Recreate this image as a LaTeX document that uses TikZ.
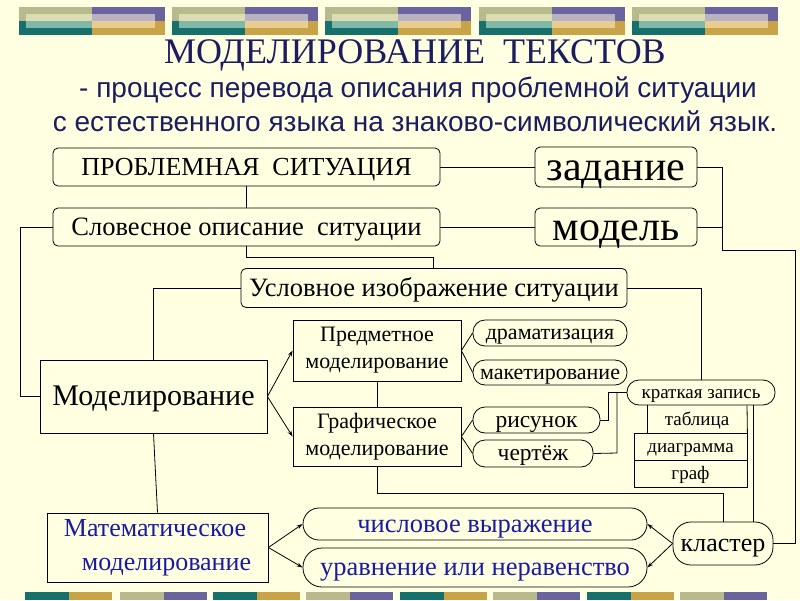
\documentclass[tikz,border=0pt]{standalone}
\usepackage{fontspec}
\setmainfont{Liberation Serif}
\newfontfamily\arialf{Liberation Sans}
\usetikzlibrary{arrows.meta}
\definecolor{bg}{HTML}{FFFFE1}
\definecolor{ttl}{HTML}{1C1C60}
\definecolor{mblue}{HTML}{1A1AA0}
\definecolor{bOl}{HTML}{B9B98E}
\definecolor{bPu}{HTML}{6B62A0}
\definecolor{bTe}{HTML}{16706C}
\definecolor{bGo}{HTML}{C9A348}
\definecolor{lOl}{HTML}{DCDCB2}
\definecolor{lPu}{HTML}{B8B2C2}
\definecolor{lTe}{HTML}{80B8A8}
\definecolor{lGo}{HTML}{E8CC90}
\newcommand{\mybanner}[1]{%
 \fill[bOl] (#1,7) rectangle ++(73,14);
 \fill[bPu] (#1+73,7) rectangle ++(73,14);
 \fill[bTe] (#1,21) rectangle ++(73,14);
 \fill[bGo] (#1+73,21) rectangle ++(73,14);
 \fill[lOl] (#1+7,14) rectangle ++(66,7);
 \fill[lPu] (#1+73,14) rectangle ++(63,7);
 \fill[lTe] (#1+7,21) rectangle ++(66,7);
 \fill[lGo] (#1+73,21) rectangle ++(63,7);}
\newcommand{\fs}[1]{\fontsize{#1}{#1}\selectfont}
\tikzset{
 th/.style={font=\fs{#1}, text height={#1*0.72pt}, text depth={#1*0.1pt}},
 rbox/.style={draw, fill=bg, rounded corners=5pt, inner sep=0pt, line width=0.8pt},
 sbox/.style={draw, fill=bg, inner sep=0pt, line width=0.8pt, align=center},
 pill/.style={draw, fill=bg, rounded corners=12pt, inner sep=0pt, line width=0.8pt},
 ln/.style={line width=0.8pt},
 ar/.style={line width=0.8pt, -{Stealth[length=6pt,width=4pt]}}
}
\begin{document}
\begin{tikzpicture}[x=1pt,y=-1pt]
\fill[bg] (0,0) rectangle (800,600);
\useasboundingbox (0,0) rectangle (800,600);
\foreach \x in {19,172,325,479,632} {\mybanner{\x}}
\foreach \x/\c/\d in {25/bTe/bGo,120/bOl/bPu,213/bTe/bGo,306/bOl/bPu,400/bTe/bGo,493/bOl/bPu,587/bTe/bGo,680/bOl/bPu} {
 \fill[\c] (\x,592) rectangle ++(44,8);
 \fill[\d] (\x+44,592) rectangle ++(43,8);}
% titles
\node[text=ttl, font=\fs{36}] (t1) at (415,55) {МОДЕЛИРОВАНИЕ\ \ ТЕКСТОВ};
\node[text=ttl, font=\arialf\fs{28}] (t2) at (418,90) {- процесс перевода описания проблемной ситуации};
\node[text=ttl, font=\arialf\fs{28}] (t3) at (415,121) {с естественного языка на знаково-символический язык.};
% boxes
\node[rbox, minimum width=387, minimum height=38, th=26] (ps) at (246.5,167) {ПРОБЛЕМНАЯ\ \ СИТУАЦИЯ};
\node[rbox, minimum width=162, minimum height=40, th=42] (zad) at (616,167) {задание};
\node[rbox, minimum width=387, minimum height=38, th=26.5] (so) at (246.5,227) {Словесное описание\ \ ситуации};
\node[rbox, minimum width=162, minimum height=38, th=42] (mod) at (616,227) {модель};
\node[rbox, minimum width=386, minimum height=39, th=26.5] (us) at (434,288) {Условное изображение ситуации};
\node[sbox, minimum width=168, minimum height=61, font=\fontsize{22}{27}\selectfont] (pm) at (377,350.5) {Предметное\\моделирование};
\node[pill, minimum width=154, minimum height=26, th=22] (dr) at (550,333) {драматизация};
\node[pill, minimum width=154, minimum height=25, th=22] (mk) at (550,372.5) {макетирование};
\node[sbox, minimum width=227, minimum height=73, th=30] (mo) at (153.5,396.5) {Моделирование};
\node[sbox, minimum width=168, minimum height=59, font=\fontsize{22}{27}\selectfont] (gm) at (377,436.5) {Графическое\\моделирование};
\node[pill, minimum width=127, minimum height=26, th=23.5] (ri) at (536.5,420) {рисунок};
\node[pill, minimum width=120, minimum height=27, th=23.5] (ch) at (533,453.5) {чертёж};
\node[pill, minimum width=148, minimum height=25, th=19] (kz) at (701,392.5) {краткая запись};
\node[inner sep=0pt, th=19] (tb) at (697,420) {таблица};
\node[draw, fill=bg, line width=0.8pt, minimum width=113, minimum height=27, inner sep=0pt, th=19] (dg) at (690.5,447) {диаграмма};
\node[draw, fill=bg, line width=0.8pt, minimum width=113, minimum height=27, inner sep=0pt, th=19] (gr) at (690.5,474) {граф};
\node[pill, rounded corners=18pt, minimum width=100, minimum height=43, th=26] (kl) at (723,543.5) {кластер};
\node[sbox, minimum width=221, minimum height=69, text=mblue, font=\fontsize{26}{34}\selectfont, align=left] (mm) at (157.5,547.5) {Математическое\\\hspace*{18pt}моделирование};
\node[pill, rounded corners=16pt, minimum width=344, minimum height=32, text=mblue, th=26.5] (cv) at (475,524) {числовое выражение};
\node[pill, rounded corners=19pt, minimum width=344, minimum height=39, text=mblue, th=26.5] (ur) at (475,567.5) {уравнение или неравенство};
% connectors
\draw[ln] (ps.east) -- (zad.west);
\draw[ln] (so.east) -- (mod.west);
\draw[ln] (ps.south) -- (so.north);
\draw[ln] (so.south) -- ++(0,11) -| (us.north -| 433,0);
\draw[ln] (so.west) -- (20,227) |- (mo.west);
\draw[ln] (mo.north) |- (us.west);
\draw[ar] (mo.east) -- (pm.west);
\draw[ar] (mo.east) -- (gm.west);
\draw[ln] (pm.south) -- (gm.north);
\draw[ln] (pm.east) -- (dr.west);
\draw[ln] (pm.east) -- (mk.west);
\draw[ln] (gm.east) -- (ri.west);
\draw[ln] (gm.east) -- (ch.west);
\draw[ln] (ri.east) -- (608,420) |- (kz.west);
\draw[ln] (ch.east) -- (617,453) |- (kz.west);
\draw[ln] (us.east) -| (kz.north);
\draw[ln] (kz.south -| 647,0) -- (dg.north -| 647,0);
\draw[ln] (kz.south -| 747,0) -- (dg.north east);
\draw[ln] (kz.south -| 753,0) -- (kl.north -| 753,0);
\draw[ln] (gm.south) |- (723,493) -- (kl.north -| 723,0);
\draw[ln] (zad.east) -- (722,167) |- (795,250) |- (kl.east);
\draw[ln] (mod.east) -- (722,227);
\draw[ln] (mo.south) -- (mm.north);
\draw[ar] (mm.east) -- (cv.west);
\draw[ar] (mm.east) -- (ur.west);
\draw[ar] (kl.west) -- (cv.east);
\draw[ar] (kl.west) -- (ur.east);
\end{tikzpicture}
\end{document}
